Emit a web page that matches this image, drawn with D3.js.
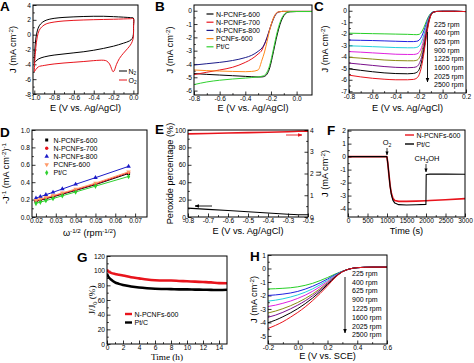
<!DOCTYPE html>
<html>
<head>
<meta charset="utf-8">
<script src="https://cdn.jsdelivr.net/npm/d3@7"></script>
<style>
body { margin: 0; background: #fff; }
svg { display: block; font-family: "Liberation Sans", Arial, sans-serif; }
</style>
</head>
<body>
<svg id="fig" width="474" height="363"></svg>
<script>
// ---------- data ----------
// A: cyclic voltammograms, [E, J] loops
var cvN2 = [[-1.0,-3.8],[-0.995,-2.2],[-0.985,-0.6],[-0.97,0.5],[-0.95,1.2],[-0.92,1.65],[-0.88,1.95],[-0.8,2.2],[-0.7,2.33],[-0.6,2.4],[-0.5,2.45],[-0.4,2.48],[-0.3,2.48],[-0.2,2.43],[-0.1,2.36],[-0.03,2.3],[0.0,2.25],[0.002,1.2],[0.0,0.0],[-0.01,-0.5],[-0.04,-0.85],[-0.1,-1.15],[-0.2,-1.55],[-0.3,-1.85],[-0.4,-2.1],[-0.5,-2.3],[-0.6,-2.45],[-0.7,-2.6],[-0.8,-2.75],[-0.9,-3.0],[-0.96,-3.3],[-1.0,-3.8]];
var cvO2 = [[-1.0,-5.0],[-0.995,-3.5],[-0.985,-1.8],[-0.97,-0.3],[-0.95,0.6],[-0.92,1.1],[-0.88,1.45],[-0.8,1.7],[-0.7,1.85],[-0.6,1.93],[-0.5,1.98],[-0.4,2.02],[-0.3,2.05],[-0.2,2.08],[-0.1,2.12],[-0.03,2.15],[0.0,2.15],[0.002,1.0],[0.0,-0.3],[-0.01,-0.9],[-0.03,-1.4],[-0.06,-1.9],[-0.1,-2.5],[-0.14,-3.2],[-0.17,-4.0],[-0.195,-4.9],[-0.205,-5.0],[-0.22,-4.6],[-0.24,-3.95],[-0.27,-3.55],[-0.3,-3.45],[-0.4,-3.5],[-0.5,-3.62],[-0.6,-3.72],[-0.7,-3.82],[-0.8,-3.95],[-0.9,-4.15],[-0.96,-4.35],[-1.0,-5.0]];

// B: LSV at 1600 rpm
var lsvE = [-0.8,-0.7,-0.6,-0.5,-0.4,-0.35,-0.3,-0.27,-0.25,-0.23,-0.21,-0.19,-0.17,-0.15,-0.13,-0.11,-0.09,-0.07,-0.05,0.0,0.12];
var lsv600  = [-4.72,-4.78,-4.83,-4.88,-4.93,-4.96,-4.98,-4.97,-4.93,-4.75,-4.3,-3.5,-2.6,-1.75,-1.05,-0.55,-0.25,-0.12,-0.08,-0.06,-0.06];
var lsv700  = [-4.8,-4.62,-4.45,-4.25,-3.88,-3.62,-3.25,-2.95,-2.5,-2.0,-1.4,-0.8,-0.35,-0.13,-0.07,-0.05,-0.05,-0.05,-0.05,-0.05,-0.05];
var lsv800  = [-4.08,-3.98,-3.88,-3.74,-3.52,-3.35,-3.05,-2.8,-2.5,-2.0,-1.4,-0.85,-0.4,-0.15,-0.07,-0.05,-0.05,-0.05,-0.05,-0.05,-0.05];
var lsvP600 = [-4.45,-4.5,-4.53,-4.56,-4.58,-4.56,-4.45,-3.7,-3.1,-2.3,-1.45,-0.8,-0.35,-0.12,-0.07,-0.05,-0.05,-0.05,-0.05,-0.05,-0.05];
var lsvPt   = [-5.55,-5.35,-5.22,-5.13,-5.06,-5.02,-4.97,-4.92,-4.85,-4.6,-4.1,-3.3,-2.4,-1.55,-0.9,-0.45,-0.2,-0.1,-0.07,-0.06,-0.06];
var lsvNames = ["N-PCNFs-600","N-PCNFs-700","N-PCNFs-800","PCNFs-600","Pt/C"];
var lsvColors = ["#000000","#e8141c","#1c1c8a","#ff8a1c","#2fd12f"];

// C: N-PCNFs-600 at different rotation rates
var rpmLabels = ["225 rpm","400 rpm","625 rpm","900 rpm","1225 rpm","1600 rpm","2025 rpm","2500 rpm"];
var rpmColors = ["#27cf27","#2020e0","#22d2dc","#e020e0","#8c8c14","#7a108c","#000000","#e8141c"];
var rdeE = [-0.8,-0.7,-0.6,-0.5,-0.4,-0.3,-0.25,-0.22,-0.2,-0.18,-0.16,-0.14,-0.12,-0.1,-0.08,-0.05,0.0,0.1,0.2];
var c225  = [-1.95,-1.97,-1.99,-2.01,-2.03,-2.05,-2.07,-2.08,-2.05,-1.85,-1.45,-0.95,-0.5,-0.22,-0.1,-0.06,-0.05,-0.05,-0.07];
var c400  = [-2.55,-2.57,-2.59,-2.62,-2.65,-2.68,-2.68,-2.65,-2.55,-2.25,-1.75,-1.15,-0.6,-0.25,-0.1,-0.06,-0.05,-0.05,-0.07];
var c625  = [-3.05,-3.08,-3.12,-3.16,-3.2,-3.22,-3.22,-3.18,-3.05,-2.7,-2.1,-1.35,-0.7,-0.28,-0.11,-0.06,-0.05,-0.05,-0.07];
var c900  = [-3.55,-3.6,-3.66,-3.72,-3.78,-3.8,-3.8,-3.75,-3.6,-3.2,-2.45,-1.55,-0.78,-0.3,-0.12,-0.06,-0.05,-0.05,-0.07];
var c1225 = [-4.05,-4.12,-4.2,-4.28,-4.33,-4.35,-4.35,-4.3,-4.1,-3.6,-2.75,-1.75,-0.85,-0.32,-0.12,-0.06,-0.05,-0.05,-0.07];
var c1600 = [-4.55,-4.65,-4.75,-4.85,-4.92,-4.95,-4.93,-4.85,-4.6,-4.05,-3.1,-1.95,-0.95,-0.35,-0.13,-0.06,-0.05,-0.05,-0.07];
var c2025 = [-5.05,-5.18,-5.3,-5.4,-5.46,-5.48,-5.45,-5.35,-5.1,-4.45,-3.4,-2.15,-1.05,-0.38,-0.14,-0.06,-0.05,-0.05,-0.07];
var c2500 = [-5.6,-5.75,-5.87,-5.95,-6.0,-6.0,-5.97,-5.85,-5.55,-4.85,-3.7,-2.35,-1.15,-0.4,-0.15,-0.06,-0.05,-0.05,-0.07];

// D: K-L plots
var omegaInv = [0.02,0.0222,0.025,0.0286,0.0333,0.04,0.05,0.0667];
var kl600  = [0.18,0.193,0.21,0.232,0.262,0.305,0.372,0.5];
var kl700  = [0.186,0.2,0.217,0.24,0.27,0.313,0.38,0.51];
var kl800  = [0.217,0.233,0.256,0.284,0.322,0.376,0.452,0.582];
var klP600 = [0.192,0.206,0.224,0.247,0.278,0.322,0.39,0.52];
var klPt   = [0.157,0.171,0.189,0.212,0.244,0.288,0.355,0.466];

// E: peroxide yield and electron transfer number
var rrdeE = [-0.8,-0.7,-0.6,-0.5,-0.4,-0.3,-0.27,-0.25,-0.2];
var peroxide = [10.2,8.8,7.4,6.0,4.6,3.2,2.8,2.6,2.6];
var nElectron = [3.82,3.84,3.86,3.88,3.9,3.92,3.93,3.94,3.95];

// F: methanol tolerance
var tMeth = [0,500,995,1000,1020,1050,1080,1110,1150,1200,1300,1500,1750,1998,2005,2100,2500,3000];
var methPt   = [0,0,0,-0.05,-0.5,-1.4,-2.3,-2.9,-3.35,-3.58,-3.7,-3.73,-3.71,-3.68,-1.38,-1.35,-1.35,-1.36];
var meth600  = [0,0,0,-0.05,-0.5,-1.4,-2.25,-2.8,-3.2,-3.38,-3.45,-3.45,-3.42,-3.4,-3.4,-3.38,-3.32,-3.24];

// G: stability
var hours = [0,0.1,0.3,0.5,1,1.5,2,3,4,5,6,7,8,9,10,11,12,13,14,15];
var stab600 = [101.5,99.5,98,97,95.5,94.5,93.5,91,89.5,88,87,86.5,86.5,86,85.5,85,84.5,84,83,82.8];
var stabPt  = [96,93,90,88,84,82,80.5,78.5,77,76,75.3,75,74.8,74.5,74.5,74.2,74,73.8,73.6,74];

// H: LSVs vs SCE at different rotation rates
var sceE = [-0.2,-0.15,-0.1,-0.05,0.0,0.05,0.1,0.15,0.2,0.25,0.3,0.35,0.4,0.5,0.6];
var h225  = [-1.52,-1.5,-1.47,-1.43,-1.36,-1.25,-1.1,-0.9,-0.67,-0.42,-0.2,-0.03,0.06,0.1,0.1];
var h400  = [-2.0,-1.96,-1.9,-1.82,-1.7,-1.53,-1.32,-1.07,-0.78,-0.47,-0.21,-0.03,0.06,0.1,0.1];
var h625  = [-2.42,-2.35,-2.25,-2.12,-1.96,-1.76,-1.51,-1.21,-0.88,-0.52,-0.22,-0.03,0.06,0.1,0.1];
var h900  = [-2.82,-2.72,-2.58,-2.42,-2.22,-1.98,-1.69,-1.35,-0.97,-0.56,-0.23,-0.03,0.06,0.1,0.1];
var h1225 = [-3.3,-3.16,-2.98,-2.77,-2.52,-2.23,-1.89,-1.5,-1.06,-0.6,-0.23,-0.03,0.06,0.1,0.1];
var h1600 = [-3.62,-3.46,-3.25,-3.0,-2.72,-2.4,-2.02,-1.6,-1.12,-0.63,-0.24,-0.03,0.06,0.1,0.1];
var h2025 = [-4.02,-3.83,-3.58,-3.3,-2.98,-2.61,-2.19,-1.72,-1.2,-0.66,-0.24,-0.03,0.06,0.1,0.1];
var h2500 = [-4.45,-4.22,-3.95,-3.62,-3.26,-2.85,-2.38,-1.86,-1.29,-0.7,-0.25,-0.03,0.06,0.1,0.1];

// ---------- drawing ----------
var svg = d3.select("#fig");
var FONT = '"Liberation Sans", Arial, sans-serif';
var SERIF = '"Liberation Serif", "Times New Roman", serif';
var TICK = 6.6, TITLE = 9.2, LEG = 7;
var RED = "#e8141c";

var defs = svg.append("defs");
[["arrK", "#000"], ["arrR", RED]].forEach(function (m) {
    defs.append("marker")
        .attr("id", m[0])
        .attr("viewBox", "0 -5 10 10")
        .attr("refX", 9).attr("refY", 0)
        .attr("markerWidth", 5).attr("markerHeight", 5)
        .attr("orient", "auto")
        .append("path")
        .attr("d", "M0,-4L10,0L0,4Z")
        .attr("fill", m[1]);
});

function zip(xs, ys) { return xs.map(function (v, i) { return [v, ys[i]]; }); }
function mids(t) { var m = []; for (var i = 0; i < t.length - 1; i++) m.push((t[i] + t[i + 1]) / 2); return m; }

// text with sub/superscripts; parts: string or [string, 1 (sup) | -1 (sub)]
function rich(t, parts, fs) {
    var shift = 0;
    parts.forEach(function (p) {
        var s = typeof p === "string" ? [p, 0] : p;
        var target = s[1] === 1 ? -fs * 0.38 : (s[1] === -1 ? fs * 0.22 : 0);
        t.append("tspan").attr("dy", target - shift)
            .attr("font-size", s[1] ? fs * 0.68 : fs).text(s[0]);
        shift = target;
    });
    return t;
}

function panel(c) {
    var x = d3.scaleLinear().domain(c.xd).range([c.l, c.r]);
    var y = d3.scaleLinear().domain(c.yd).range([c.b, c.t]);
    var g = svg.append("g");
    defs.append("clipPath").attr("id", "clip" + c.id).append("rect")
        .attr("x", c.l).attr("y", c.t).attr("width", c.r - c.l).attr("height", c.b - c.t);

    g.append("g").attr("transform", "translate(0," + c.b + ")")
        .call(d3.axisBottom(x).tickValues(mids(c.xt)).tickSize(-1.8).tickFormat(""));
    g.append("g").attr("transform", "translate(" + c.l + ",0)")
        .call(d3.axisLeft(y).tickValues(mids(c.yt)).tickSize(-1.8).tickFormat(""));
    g.append("g").attr("transform", "translate(0," + c.b + ")")
        .call(d3.axisBottom(x).tickValues(c.xt).tickSize(-3.5).tickPadding(1.5).tickFormat(c.xf));
    g.append("g").attr("transform", "translate(" + c.l + ",0)")
        .call(d3.axisLeft(y).tickValues(c.yt).tickSize(-3.5).tickPadding(2).tickFormat(c.yf));

    var plot = g.append("g").attr("clip-path", "url(#clip" + c.id + ")");
    g.append("rect").attr("x", c.l).attr("y", c.t)
        .attr("width", c.r - c.l).attr("height", c.b - c.t)
        .attr("fill", "none").attr("stroke", "#000").attr("stroke-width", 1);

    // panel letter
    g.append("text").attr("x", c.lx).attr("y", c.ly)
        .attr("font-size", 13.5).attr("font-weight", "bold").text(c.id);

    // axis titles
    var xt = g.append("text").attr("x", (c.l + c.r) / 2).attr("y", c.xty)
        .attr("text-anchor", "middle").attr("font-family", c.serif ? SERIF : FONT);
    rich(xt, c.xTitle, TITLE);
    var yt = g.append("text").attr("text-anchor", "middle")
        .attr("transform", "translate(" + c.ytx + "," + ((c.t + c.b) / 2) + ") rotate(-90)")
        .attr("font-family", c.serif ? SERIF : FONT);
    rich(yt, c.yTitle, TITLE);

    return { x: x, y: y, g: g, plot: plot, c: c };
}

function styleTicks() {
    svg.selectAll(".domain").remove();
    svg.selectAll(".tick line").attr("stroke", "#000").attr("stroke-width", 0.8);
    svg.selectAll(".tick text").attr("font-size", TICK).attr("font-family", FONT).attr("fill", "#000");
}

function drawLine(p, pts, color, w, curve) {
    var line = d3.line().x(function (d) { return p.x(d[0]); }).y(function (d) { return p.y(d[1]); })
        .curve(curve || d3.curveLinear);
    p.plot.append("path").datum(pts).attr("d", line)
        .attr("fill", "none").attr("stroke", color).attr("stroke-width", w || 1)
        .attr("stroke-linejoin", "round");
}

function arrow(x1, y1, x2, y2, id, color, w) {
    svg.append("line").attr("x1", x1).attr("y1", y1).attr("x2", x2).attr("y2", y2)
        .attr("stroke", color).attr("stroke-width", w || 1).attr("marker-end", "url(#" + id + ")");
}

var f1 = function (d) { return d.toFixed(1); };
var f0 = function (d) { return d.toFixed(0); };
var f2 = function (d) { return d.toFixed(2); };
var jTitle = ["J (mA cm", ["-2", 1], ")"];
var agTitle = ["E (V vs. Ag/AgCl)"];

// ----- A -----
var pA = panel({ id: "A", l: 33, r: 138, t: 5, b: 94, xd: [-1.013, 0.047], yd: [-8, 4],
    xt: [-1.0, -0.8, -0.6, -0.4, -0.2, 0.0], yt: [-8, -6, -4, -2, 0, 2, 4], xf: f1, yf: f0,
    lx: 0, ly: 11, xty: 111, ytx: 16, xTitle: agTitle, yTitle: jTitle });
drawLine(pA, cvN2, "#000", 1, d3.curveCatmullRom.alpha(0.5));
drawLine(pA, cvO2, RED, 1, d3.curveCatmullRom.alpha(0.5));
[["N", "#000"], ["O", RED]].forEach(function (d, i) {
    var yy = 71 + i * 9;
    svg.append("line").attr("x1", 119).attr("x2", 127).attr("y1", yy).attr("y2", yy)
        .attr("stroke", d[1]).attr("stroke-width", 1);
    rich(svg.append("text").attr("x", 128.5).attr("y", yy + 2.5), [d[0], ["2", -1]], LEG);
});

// ----- B -----
var pB = panel({ id: "B", l: 194, r: 312, t: 5, b: 95, xd: [-0.8, 0.12], yd: [-6.33, 0.43],
    xt: [-0.8, -0.6, -0.4, -0.2, 0.0], yt: [-6, -5, -4, -3, -2, -1, 0], xf: f1, yf: f0,
    lx: 155, ly: 11, xty: 111, ytx: 173, xTitle: agTitle, yTitle: jTitle });
[lsv600, lsv700, lsv800, lsvP600, lsvPt].forEach(function (s, i) {
    drawLine(pB, zip(lsvE, s), lsvColors[i], 1, d3.curveMonotoneX);
});
lsvNames.forEach(function (n, i) {
    var yy = 14 + i * 8.2;
    svg.append("line").attr("x1", 206.5).attr("x2", 213.5).attr("y1", yy).attr("y2", yy)
        .attr("stroke", lsvColors[i]).attr("stroke-width", 1.2);
    svg.append("text").attr("x", 216).attr("y", yy + 2.5).attr("font-size", LEG).text(n);
});

// ----- C -----
var pC = panel({ id: "C", l: 349, r: 466, t: 5, b: 93, xd: [-0.8, 0.2], yd: [-7.15, 0.5],
    xt: [-0.8, -0.6, -0.4, -0.2, 0.0, 0.2], yt: [-7, -6, -5, -4, -3, -2, -1, 0], xf: f1, yf: f0,
    lx: 314, ly: 11, xty: 111, ytx: 328, xTitle: agTitle, yTitle: jTitle });
[c225, c400, c625, c900, c1225, c1600, c2025, c2500].forEach(function (s, i) {
    drawLine(pC, zip(rdeE, s), rpmColors[i], 1, d3.curveMonotoneX);
});
rpmLabels.forEach(function (n, i) {
    svg.append("text").attr("x", 434).attr("y", 26.8 + i * 8.65).attr("font-size", LEG).text(n);
});
arrow(427.5, 32, 427.5, 82, "arrK", "#000", 0.9);

// ----- D -----
var pD = panel({ id: "D", l: 32, r: 147, t: 130, b: 217, xd: [0.018, 0.076], yd: [0, 1],
    xt: [0.02, 0.03, 0.04, 0.05, 0.06, 0.07], yt: [0, 0.2, 0.4, 0.6, 0.8, 1.0], xf: f2, yf: f1,
    lx: 0, ly: 137, xty: 236, ytx: 9,
    xTitle: ["\u03c9", ["-1/2", 1], " (rpm", ["-1/2", 1], ")"],
    yTitle: ["-J", ["-1", 1], " (mA cm", ["-2", 1], ")", ["-1", 1]] });
var klSets = [kl600, kl700, kl800, klP600, klPt];
var klSymbols = [d3.symbolSquare, d3.symbolCircle, d3.symbolTriangle, d3.symbolTriangle, d3.symbolDiamond];
var klRot = [0, 0, 0, 180, 0];
var klColors = ["#000000", "#e8141c", "#1c1cc8", "#ff9a6a", "#2fd12f"];
klSets.forEach(function (s, i) {
    drawLine(pD, zip(omegaInv, s), klColors[i], 1);
    pD.plot.selectAll(null).data(zip(omegaInv, s)).enter().append("path")
        .attr("d", d3.symbol().type(klSymbols[i]).size(9))
        .attr("transform", function (d) { return "translate(" + pD.x(d[0]) + "," + pD.y(d[1]) + ") rotate(" + klRot[i] + ")"; })
        .attr("fill", klColors[i]);
});
lsvNames.forEach(function (n, i) {
    var yy = 140 + i * 8.2;
    svg.append("path").attr("d", d3.symbol().type(klSymbols[i]).size(9))
        .attr("transform", "translate(46.7," + yy + ") rotate(" + klRot[i] + ")").attr("fill", klColors[i]);
    svg.append("text").attr("x", 53.5).attr("y", yy + 2.5).attr("font-size", LEG).text(n);
});

// ----- E -----
var pE = panel({ id: "E", l: 188, r: 308, t: 130, b: 217, xd: [-0.8, -0.2], yd: [0, 100],
    xt: [-0.8, -0.7, -0.6, -0.5, -0.4, -0.3, -0.2], yt: [0, 20, 40, 60, 80, 100], xf: f1, yf: f0,
    lx: 155, ly: 134, xty: 233.5, ytx: 173, xTitle: agTitle, yTitle: ["Peroxide percentage (%)"] });
var nScale = d3.scaleLinear().domain([0, 4]).range([pE.c.b, pE.c.t]);
pE.g.append("g").attr("transform", "translate(" + pE.c.r + ",0)")
    .call(d3.axisRight(nScale).tickValues([0, 1, 2, 3, 4]).tickSize(-3.5).tickPadding(2).tickFormat(f0));
pE.g.append("g").attr("transform", "translate(" + pE.c.r + ",0)")
    .call(d3.axisRight(nScale).tickValues(mids([0, 1, 2, 3, 4])).tickSize(-1.8).tickFormat(""));
drawLine(pE, zip(rrdeE, peroxide), "#000", 1.1);
pE.plot.append("path").datum(zip(rrdeE, nElectron))
    .attr("d", d3.line().x(function (d) { return pE.x(d[0]); }).y(function (d) { return nScale(d[1]); }))
    .attr("fill", "none").attr("stroke", RED).attr("stroke-width", 1.6);
svg.append("text").attr("font-size", TITLE)
    .attr("transform", "translate(316," + ((pE.c.t + pE.c.b) / 2) + ") rotate(90)")
    .attr("text-anchor", "middle").text("n");
arrow(212, 206, 195, 206, "arrK", "#000", 0.9);
arrow(286, 135, 302, 135, "arrR", RED, 0.9);

// ----- F -----
var pF = panel({ id: "F", l: 348, r: 465, t: 130, b: 217, xd: [0, 3000], yd: [-4.65, 2.05],
    xt: [0, 500, 1000, 1500, 2000, 2500, 3000], yt: [-4, -3, -2, -1, 0, 1, 2], xf: f0, yf: f0,
    lx: 327, ly: 135, xty: 233.5, ytx: 328, xTitle: ["Time (s)"], yTitle: jTitle });
drawLine(pF, zip(tMeth, meth600), RED, 1.7);
drawLine(pF, zip(tMeth, methPt), "#000", 1.1);
[["N-PCNFs-600", RED], ["Pt/C", "#000"]].forEach(function (d, i) {
    var yy = 135 + i * 9;
    svg.append("line").attr("x1", 405).attr("x2", 414).attr("y1", yy).attr("y2", yy)
        .attr("stroke", d[1]).attr("stroke-width", 1.4);
    svg.append("text").attr("x", 416.5).attr("y", yy + 2.5).attr("font-size", LEG).text(d[0]);
});
rich(svg.append("text").attr("x", pF.x(1000)).attr("y", 145).attr("text-anchor", "middle"), ["O", ["2", -1]], LEG + 0.5);
arrow(pF.x(1000), 148, pF.x(1000), 155, "arrK", "#000", 0.8);
rich(svg.append("text").attr("x", pF.x(2000) + 1).attr("y", 161).attr("text-anchor", "middle"), ["CH", ["3", -1], "OH"], LEG + 0.5);
arrow(pF.x(2000), 164, pF.x(2000), 172, "arrK", "#000", 0.8);

// ----- G -----
var pG = panel({ id: "G", l: 107, r: 227, t: 256, b: 344, xd: [0, 15], yd: [0, 120],
    xt: [0, 2, 4, 6, 8, 10, 12, 14], yt: [0, 20, 40, 60, 80, 100, 120], xf: f0, yf: f0,
    lx: 77, ly: 262, xty: 360, ytx: 95, serif: true,
    xTitle: ["Time (h)"], yTitle: ["J/J", ["0", -1], " (%)"] });
drawLine(pG, zip(hours, stab600), RED, 2.6, d3.curveMonotoneX);
drawLine(pG, zip(hours, stabPt), "#000", 2.6, d3.curveMonotoneX);
[["N-PCNFs-600", RED], ["Pt/C", "#000"]].forEach(function (d, i) {
    var yy = 314 + i * 8.5;
    svg.append("line").attr("x1", 125).attr("x2", 132).attr("y1", yy).attr("y2", yy)
        .attr("stroke", d[1]).attr("stroke-width", 2.4);
    svg.append("text").attr("x", 134.5).attr("y", yy + 2.5).attr("font-size", LEG).text(d[0]);
});

// ----- H -----
var pH = panel({ id: "H", l: 268, r: 387, t: 255, b: 344, xd: [-0.2, 0.6], yd: [-5.6, 1],
    xt: [-0.2, 0.0, 0.2, 0.4, 0.6], yt: [-5, -4, -3, -2, -1, 0, 1], xf: f1, yf: f0,
    lx: 250, ly: 261, xty: 359, ytx: 257, xTitle: ["E (V vs. SCE)"], yTitle: jTitle });
[h225, h400, h625, h900, h1225, h1600, h2025, h2500].forEach(function (s, i) {
    drawLine(pH, zip(sceE, s), rpmColors[i], 1, d3.curveMonotoneX);
});
rpmLabels.forEach(function (n, i) {
    svg.append("text").attr("x", 352).attr("y", 275.8 + i * 8.8).attr("font-size", LEG).text(n);
});
arrow(345, 277, 345, 333, "arrK", "#000", 0.9);

styleTicks();
</script>
</body>
</html>
